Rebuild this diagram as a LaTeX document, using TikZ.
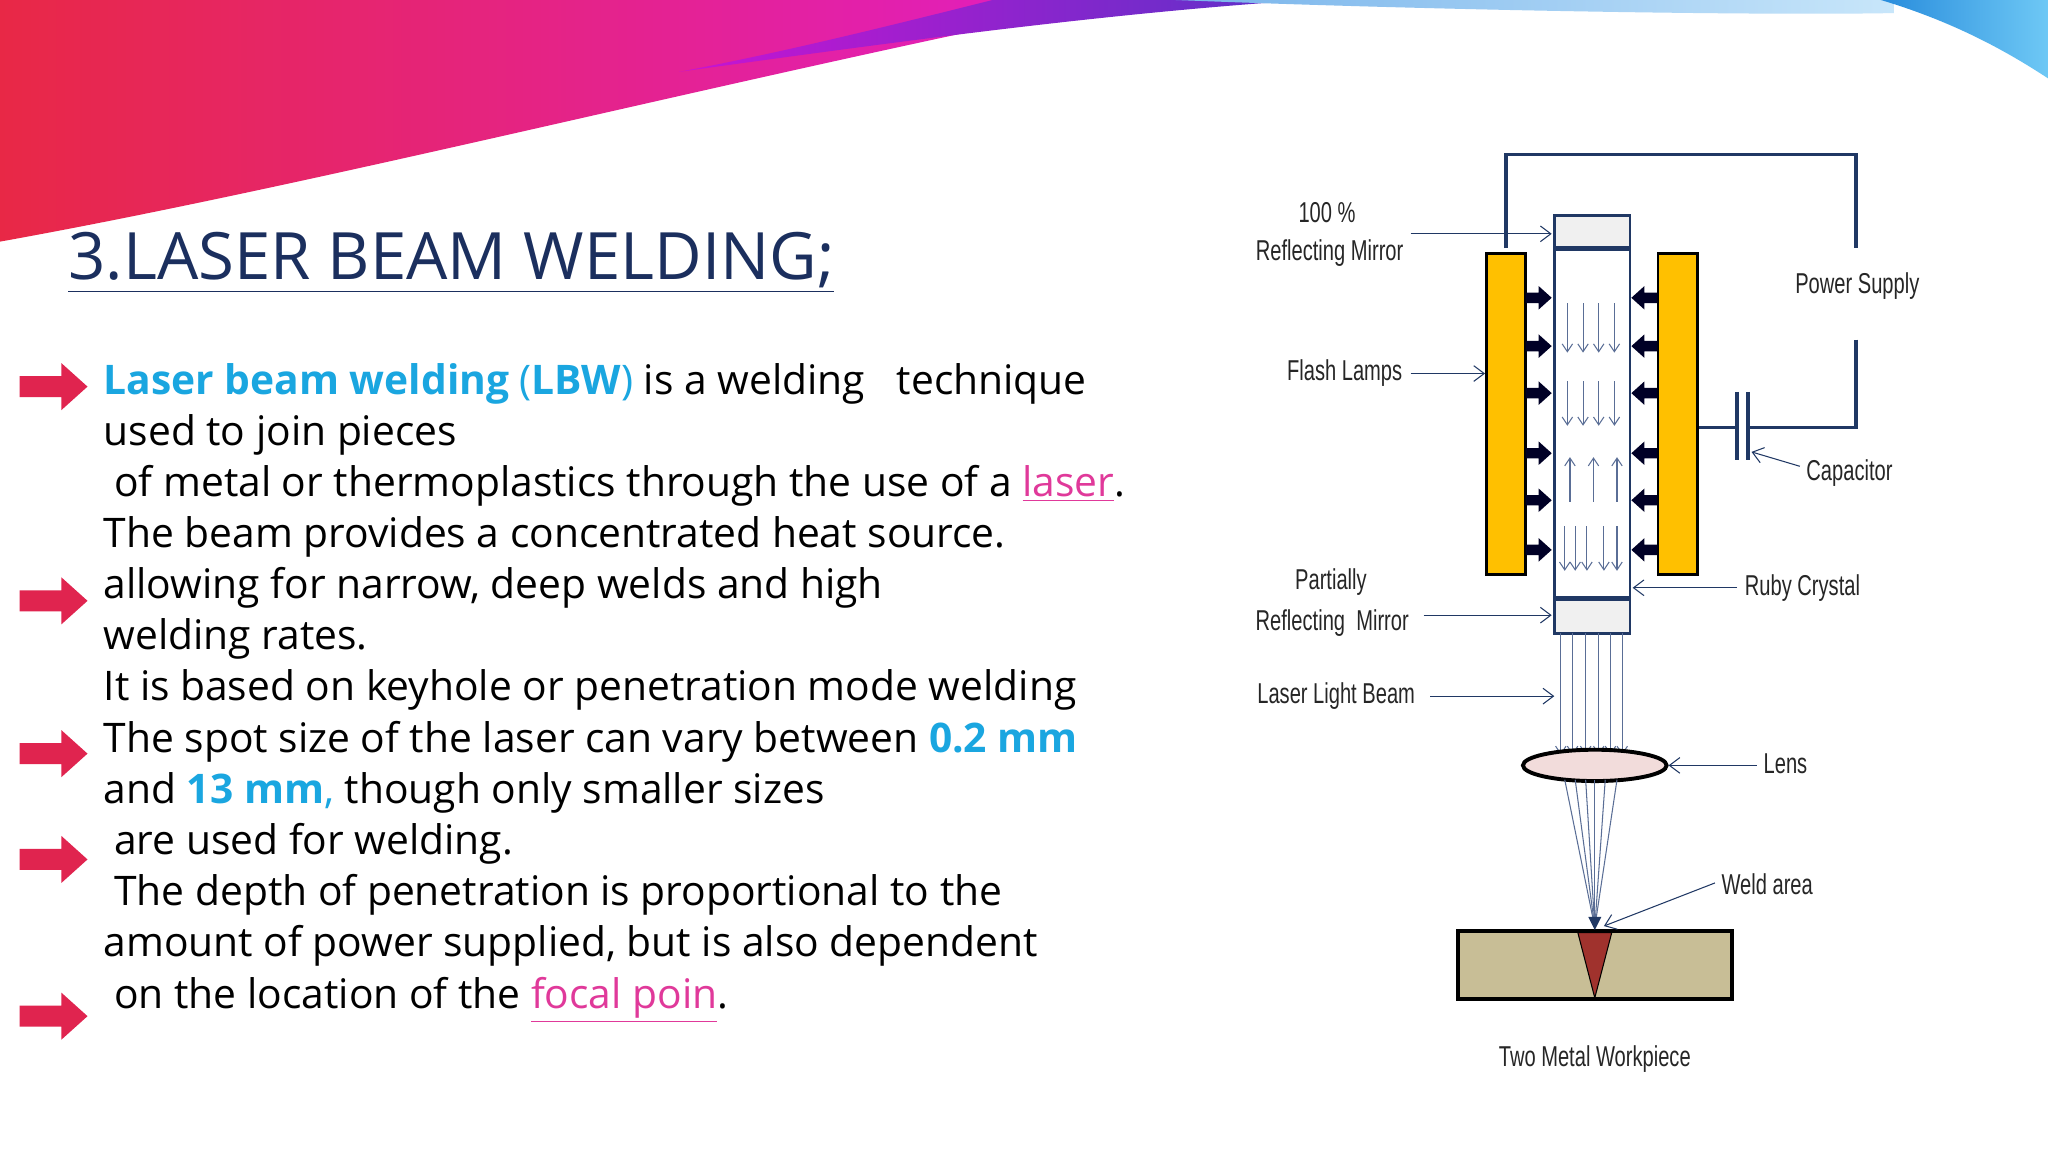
\documentclass[tikz,border=0pt]{standalone}
\usepackage{fontspec}
\setmainfont{Open Sans}
\newfontfamily\lab[FakeStretch=0.7]{Liberation Sans}
\usetikzlibrary{arrows.meta,shapes.geometric}
\definecolor{cy}{HTML}{1AA6E0}
\definecolor{pk}{HTML}{E0399A}
\definecolor{navy}{HTML}{1B2F5E}
\definecolor{wire}{HTML}{203864}
\definecolor{lampy}{HTML}{FFC000}
\definecolor{arr}{HTML}{E0244F}
\definecolor{beam}{HTML}{5A6E96}
\tikzset{
 body/.style={anchor=base west,inner sep=0pt,font=\fontsize{15.6}{19}\selectfont},
 lbl/.style={inner sep=0pt,font=\lab\fontsize{11}{13}\selectfont,text=black!85,align=center},
 la/.style={-{Straight Barb[length=4pt,width=6pt]},thin,draw=wire},
 wr/.style={draw=wire,line width=1.2pt},
 lamp/.style={draw=black,line width=1pt,fill=lampy},
 thinarr/.style={-{Straight Barb[length=3pt,width=4pt]},draw=beam,line width=0.4pt},
}
\newcommand{\redarr}[2]{\fill[arr] (#1,#2) ++(0,-8) -- ++(32,0) -- ++(0,-10) -- ++(20,18) -- ++(-20,18) -- ++(0,-10) -- ++(-32,0) -- cycle;}
\newcommand{\fatR}[2]{\fill[black!85!blue] (#1,#2) ++(0,-4) -- ++(10,0) -- ++(0,-5) -- ++(10,9) -- ++(-10,9) -- ++(0,-5) -- ++(-10,0) -- cycle;}
\newcommand{\fatL}[2]{\fill[black!85!blue] (#1,#2) ++(0,-4) -- ++(-10,0) -- ++(0,-5) -- ++(-10,9) -- ++(10,9) -- ++(0,-5) -- ++(10,0) -- cycle;}
\begin{document}
\begin{tikzpicture}[x=0.5pt,y=-0.5pt]
\useasboundingbox[fill=white] (0,0) rectangle (1568,882);
% banner
\shade[left color={rgb,255:red,232;green,40;blue,70},right color={rgb,255:red,225;green,30;blue,200}]
 (0,0) -- (0,185) .. controls (250,140) and (560,60) .. (860,0) -- cycle;
\shade[left color={rgb,255:red,200;green,20;blue,210},right color={rgb,255:red,90;green,50;blue,200}]
 (520,55) .. controls (700,30) and (850,10) .. (1000,0) -- (760,0) .. controls (680,20) and (600,40) .. cycle;
\shade[left color={rgb,255:red,120;green,180;blue,235},right color={rgb,255:red,200;green,230;blue,250}]
 (900,0) .. controls (1100,8) and (1350,12) .. (1450,10) -- (1450,0) -- cycle;
\shade[left color={rgb,255:red,40;green,140;blue,220},right color={rgb,255:red,110;green,200;blue,245}]
 (1440,0) .. controls (1490,15) and (1530,35) .. (1568,60) -- (1568,0) -- cycle;
% title
\node[anchor=base west,inner sep=0pt,text=navy,font=\fontsize{25}{30}\selectfont] (title) at (52,214) {\underline{3.LASER BEAM WELDING;}};
% arrows
\redarr{15}{296}\redarr{15}{460}\redarr{15}{577}\redarr{15}{658}\redarr{15}{778}
% body text
\node[body] (l1) at (79,302) {\textcolor{cy}{\textbf{Laser beam welding} (\textbf{LBW})} is a welding \ \ technique};
\node[body] (l2) at (79,341) {used to join pieces};
\node[body] (l3) at (79,380) { \ of metal or thermoplastics through the use of a \textcolor{pk}{\underline{laser}}.};
\node[body] (l4) at (79,419) {The beam provides a concentrated heat source.};
\node[body] (l5) at (79,458) {allowing for narrow, deep welds and high};
\node[body] (l6) at (79,497) {welding rates.};
\node[body] (l7) at (79,536) {It is based on keyhole or penetration mode welding};
\node[body] (l8) at (79,576) {The spot size of the laser can vary between \textcolor{cy}{\textbf{0.2 mm}}};
\node[body] (l9) at (79,615) {and \textcolor{cy}{\textbf{13 mm},} though only smaller sizes};
\node[body] (l10) at (79,654) { \ are used for welding.};
\node[body] (l11) at (79,693) { \ The depth of penetration is proportional to the};
\node[body] (l12) at (79,732) {amount of power supplied, but is also dependent};
\node[body] (l13) at (79,772) { \ on the location of the \textcolor{pk}{\underline{focal poin}}.};
% ---- diagram
\coordinate (w1) at (1153,190); \coordinate (w2) at (1153,118); \coordinate (w3) at (1421,118); \coordinate (w4) at (1421,190);
\draw[wr] (w1) -- (w2) -- (w3) -- (w4);
\coordinate (w5) at (1421,260); \coordinate (w6) at (1421,327); \coordinate (w7) at (1338,327); \coordinate (w8) at (1300,327); \coordinate (w9) at (1330,327);
\draw[wr] (w5) -- (w6) -- (w7); \draw[wr] (w8) -- (w9);
\draw[wr,line width=1.6pt] (1330,300) -- (1330,352); \draw[wr,line width=1.6pt] (1338,300) -- (1338,352);
\node[lamp,minimum width=15pt,minimum height=123pt,inner sep=0pt] (lampL) at (1153,317) {};
\node[lamp,minimum width=15pt,minimum height=123pt,inner sep=0pt] (lampR) at (1284.5,317) {};
\node[draw=wire,line width=1pt,fill=white,minimum width=29pt,minimum height=160pt,inner sep=0pt] (tube) at (1219,325) {};
\node[draw=wire,line width=1pt,fill=gray!12,minimum width=29pt,minimum height=12.5pt,inner sep=0pt] (topm) at (1219,177.5) {};
\node[draw=wire,line width=1pt,fill=gray!12,minimum width=29pt,minimum height=13.5pt,inner sep=0pt] (botm) at (1219,471.5) {};
\draw[wire,line width=2pt] (1190,190) -- (1248,190); \draw[wire,line width=2pt] (1190,458) -- (1248,458);
\foreach \y in {228,265,301,347,383,421} {\fatR{1168}{\y}\fatL{1269}{\y}}
\foreach \x in {1200,1212,1224,1236} {\draw[thinarr] (\x,232) -- (\x,270); \draw[thinarr] (\x,292) -- (\x,326);}
\foreach \x in {1202,1220,1238} {\draw[thinarr] (\x,384) -- (\x,350);}
\foreach \x in {1198,1206,1215,1228,1238} {\draw[thinarr] (\x,403) -- (\x,437);}
% beam
\foreach \x in {1195,1204,1214,1224,1233,1242} {\draw[thinarr] (\x,485) -- (\x,578);}
\node[ellipse,draw=black,line width=1.5pt,fill={rgb,255:red,242;green,220;blue,219},minimum width=55pt,minimum height=12pt,inner sep=0pt] (lens) at (1221,586) {};
\node[draw=black,line width=1.5pt,fill={rgb,255:red,200;green,190;blue,150},minimum width=105pt,minimum height=26pt,inner sep=0pt] (work) at (1221,739) {};
\fill[fill={rgb,255:red,160;green,50;blue,45},draw=black,thin] (1208,714) -- (1234,714) -- (1221,764) -- cycle;
\coordinate (f) at (1221,710);
\foreach \x in {1198,1206,1214,1221,1229,1238} {\draw[beam,line width=0.4pt] (\x,597) -- (f);}
\fill[wire] (1221,712) -- (1216,702) -- (1226,702) -- cycle;
% labels
\node[lbl] (t100) at (1016,163) {100 \%};
\node[lbl] (trm) at (1018,194) {Reflecting Mirror};
\node[lbl,anchor=east] (tfl) at (1074,286) {Flash Lamps};
\node[lbl] (tps) at (1422,219) {Power Supply};
\node[lbl] (tcap) at (1416,362) {Capacitor};
\node[lbl] (tpar) at (1019,446) {Partially};
\node[lbl] (tprm) at (1020,477) {Reflecting \ Mirror};
\node[lbl] (truby) at (1380,450) {Ruby Crystal};
\node[lbl] (tllb) at (1023,533) {Laser Light Beam};
\node[lbl] (tlens) at (1367,585) {Lens};
\node[lbl] (tweld) at (1353,677) {Weld area};
\node[lbl] (twork) at (1221,811) {Two Metal Workpiece};
\coordinate (a1) at (1080,179); \coordinate (b1) at (1188,179);
\draw[la] (a1) -- (b1);
\draw[la] (tfl.east) ++(6,0) -- (lampL.west |- tfl.east);
\coordinate (a3) at (1090,471); \coordinate (b3) at (1188,471); \draw[la] (a3) -- (b3);
\coordinate (a4) at (1095,533); \coordinate (b4) at (1190,533); \draw[la] (a4) -- (b4);
\coordinate (a5) at (1345,586); \draw[la] (a5) -- (lens.east);
\coordinate (a6) at (1378,357); \coordinate (b6) at (1341,346); \draw[la] (a6) -- (b6);
\coordinate (a7) at (1330,450); \coordinate (b7) at (1250,450); \draw[la] (a7) -- (b7);
\coordinate (a8) at (1313,676); \coordinate (b8) at (1228,709); \draw[la] (a8) -- (b8);
\end{tikzpicture}
\end{document}
